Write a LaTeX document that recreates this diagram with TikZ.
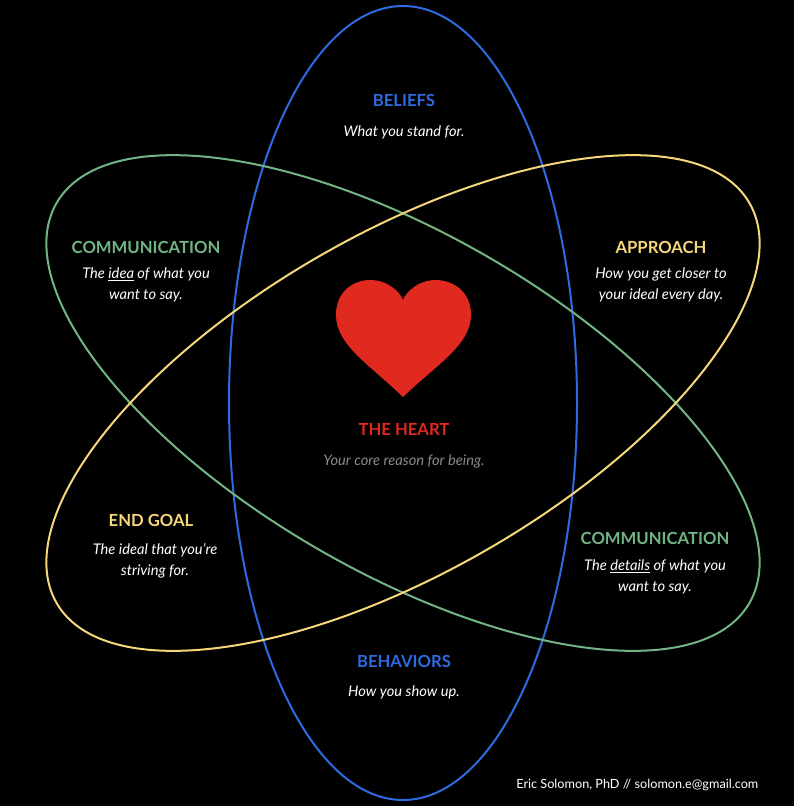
\documentclass[tikz,border=0pt]{standalone}
\usepackage{fontspec}
\setmainfont{Lato}
\definecolor{cblue}{HTML}{2F6BE0}
\definecolor{cgreen}{HTML}{72B585}
\definecolor{cyel}{HTML}{F5D77A}
\definecolor{cred}{HTML}{E0291F}
\definecolor{cgray}{HTML}{8A8A8A}
\tikzset{
 orbit/.style={line width=1.5pt},
 head/.style={font=\bfseries\fontsize{12.5}{14}\selectfont, align=center},
 sub/.style={font=\itshape\fontsize{11}{16}\selectfont, text=white, align=center},
}
\begin{document}
\begin{tikzpicture}[x=0.75pt,y=-0.75pt]
\fill[black] (0,0) rectangle (794,806);
\useasboundingbox (0,0) rectangle (794,806);
\coordinate (c) at (403,403);
\draw[orbit,cblue] (c) ellipse [x radius=174, y radius=397];
\draw[orbit,cgreen,rotate around={-30:(c)}] (c) ellipse [x radius=400, y radius=169];
\draw[orbit,cyel,rotate around={30:(c)}] (c) ellipse [x radius=400, y radius=169];
\fill[cred] (403,397) .. controls (370,365) and (336,345) .. (336,315) .. controls (336,290) and (355,280) .. (370,280) .. controls (388,280) and (400,292) .. (403,300) .. controls (406,292) and (418,280) .. (436,280) .. controls (451,280) and (471,290) .. (471,315) .. controls (471,345) and (436,365) .. (403,397);
\node[head,text=cblue] (b) at (404,100) {BELIEFS};
\node[sub] (bs) at (404,132) {What you stand for.};
\node[head,text=cgreen] (c1) at (146,247) {COMMUNICATION};
\node[sub] (c1s) at (146,285) {The \underline{idea} of what you\\want to say.};
\node[head,text=cyel] (a) at (661,247) {APPROACH};
\node[sub] (as) at (661,285) {How you get closer to\\your ideal every day.};
\node[head,text=cred] (h) at (404,429) {THE HEART};
\node[sub,text=cgray] (hs) at (404,461) {Your core reason for being.};
\node[head,text=cyel] (e) at (151,520) {END GOAL};
\node[sub] (es) at (155,561) {The ideal that you're\\striving for.};
\node[head,text=cgreen] (c2) at (655,538) {COMMUNICATION};
\node[sub] (c2s) at (655,577) {The \underline{details} of what you\\want to say.};
\node[head,text=cblue] (bh) at (404,661) {BEHAVIORS};
\node[sub] (bhs) at (404,692) {How you show up.};
\node[font=\fontsize{9.5}{11}\selectfont,text=white,anchor=east] (cr) at (763,785) {Eric Solomon, PhD // solomon.e@gmail.com};
\end{tikzpicture}
\end{document}
